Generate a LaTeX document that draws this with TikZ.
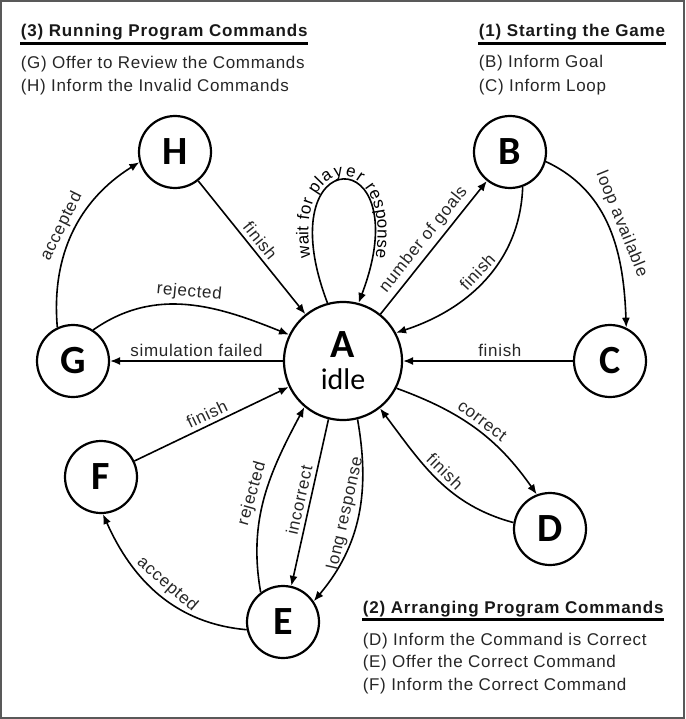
\documentclass[tikz,border=0pt]{standalone}
\usepackage{fontspec}
\usetikzlibrary{arrows.meta,decorations.text}
\newfontfamily\lblfont[LetterSpace=4]{Liberation Sans}
\newfontfamily\ttlfont[LetterSpace=5]{Liberation Sans}
\newfontfamily\ltrfont{Carlito}
\newcommand\lblsize{\lblfont\fontsize{17}{20}\selectfont}

\begin{document}
\begin{tikzpicture}[x=1pt, y=1pt, line width=1.6pt, >={Latex[length=10pt,width=8pt]},
	state/.style={circle, draw, line width=2.2pt, minimum size=72pt, inner sep=0pt, font=\ltrfont\bfseries\fontsize{40}{40}\selectfont},
	idle/.style={state, minimum size=118pt, align=center, font=\ltrfont\fontsize{30}{32}\selectfont},
	lbl/.style={font=\lblsize, text=black!85, sloped, above=3pt, inner sep=1pt},
	ttl/.style={font=\ttlfont\bfseries\fontsize{17}{20}\selectfont, text=black!90, anchor=base west, inner sep=0pt},
	item/.style={font=\lblsize, text=black!85, anchor=base west, inner sep=0pt},
	under/.style={line width=3pt}]
	\useasboundingbox (0,0) rectangle (685,-719);
	\draw[gray!70!black, line width=2pt] (1,-1) rectangle (684,-718);
	\node[idle] (A) at (343,-361) {{\bfseries\fontsize{40}{32}\selectfont A}\\idle};
	\node[state] (B) at (510,-152) {B};
	\node[state] (C) at (610,-361) {C};
	\node[state] (D) at (550,-529) {D};
	\node[state] (E) at (283,-622) {E};
	\node[state] (F) at (101,-477) {F};
	\node[state] (G) at (73,-361) {G};
	\node[state] (H) at (175,-152) {H};
	\draw[->, postaction={decorate, decoration={text along path, text align=center, raise=4pt, text={|\lblsize|wait for player response}}}] (A.105) .. controls (265,-139) and (421,-139) .. (A.75);
	\draw[->] (A) -- node[lbl]{number of goals} (B);
	\draw[->] (B.-70) to[out=-92, in=18] node[lbl]{finish} (A.28);
	\draw[->] (B.-15) to[out=-25, in=92] node[lbl]{loop available} (C.64);
	\draw[->] (C) -- node[lbl, pos=0.43]{finish} (A);
	\draw[->] (A.-27) to[out=-20, in=125] node[lbl]{correct} (D.111);
	\draw[->] (D.170) to[out=165, in=-53] node[lbl]{finish} (A.-52);
	\draw[->] (A.-104) -- node[lbl]{incorrect} (E.77);
	\draw[->] (A.-76) to[out=-80, in=50] node[lbl]{long response} (E.34);
	\draw[->] (E.127) to[out=100, in=-118] node[lbl]{rejected} (A.-130);
	\draw[->] (E.192) to[out=175, in=-66] node[lbl]{accepted} (F.-87);
	\draw[->] (F) -- node[lbl]{finish} (A);
	\draw[->] (A) -- node[lbl]{simulation failed} (G);
	\draw[->] (G.57) to[out=35, in=158] node[lbl]{rejected} (A.154);
	\draw[->] (G.115) to[out=95, in=212] node[lbl]{accepted} (H.196);
	\draw[->] (H) -- node[lbl]{finish} (A);
	\node[ttl] (t3) at (20,-37) {(3) Running Program Commands};
	\draw[under] ([yshift=-6.5pt]t3.base west) -- ([yshift=-6.5pt]t3.base east);
	\node[item] (g) at (20,-69) {(G) Offer to Review the Commands};
	\node[item] (h) at (20,-92) {(H) Inform the Invalid Commands};
	\node[ttl] (t1) at (478,-37) {(1) Starting the Game};
	\draw[under] ([yshift=-6.5pt]t1.base west) -- ([yshift=-6.5pt]t1.base east);
	\node[item] (b) at (478,-68) {(B) Inform Goal};
	\node[item] (c) at (478,-92) {(C) Inform Loop};
	\node[ttl] (t2) at (362,-613) {(2) Arranging Program Commands};
	\draw[under] ([yshift=-6.5pt]t2.base west) -- ([yshift=-6.5pt]t2.base east);
	\node[item] (d) at (362,-645) {(D) Inform the Command is Correct};
	\node[item] (e) at (362,-667) {(E) Offer the Correct Command};
	\node[item] (f) at (362,-690) {(F) Inform the Correct Command};
\end{tikzpicture}
\end{document}
